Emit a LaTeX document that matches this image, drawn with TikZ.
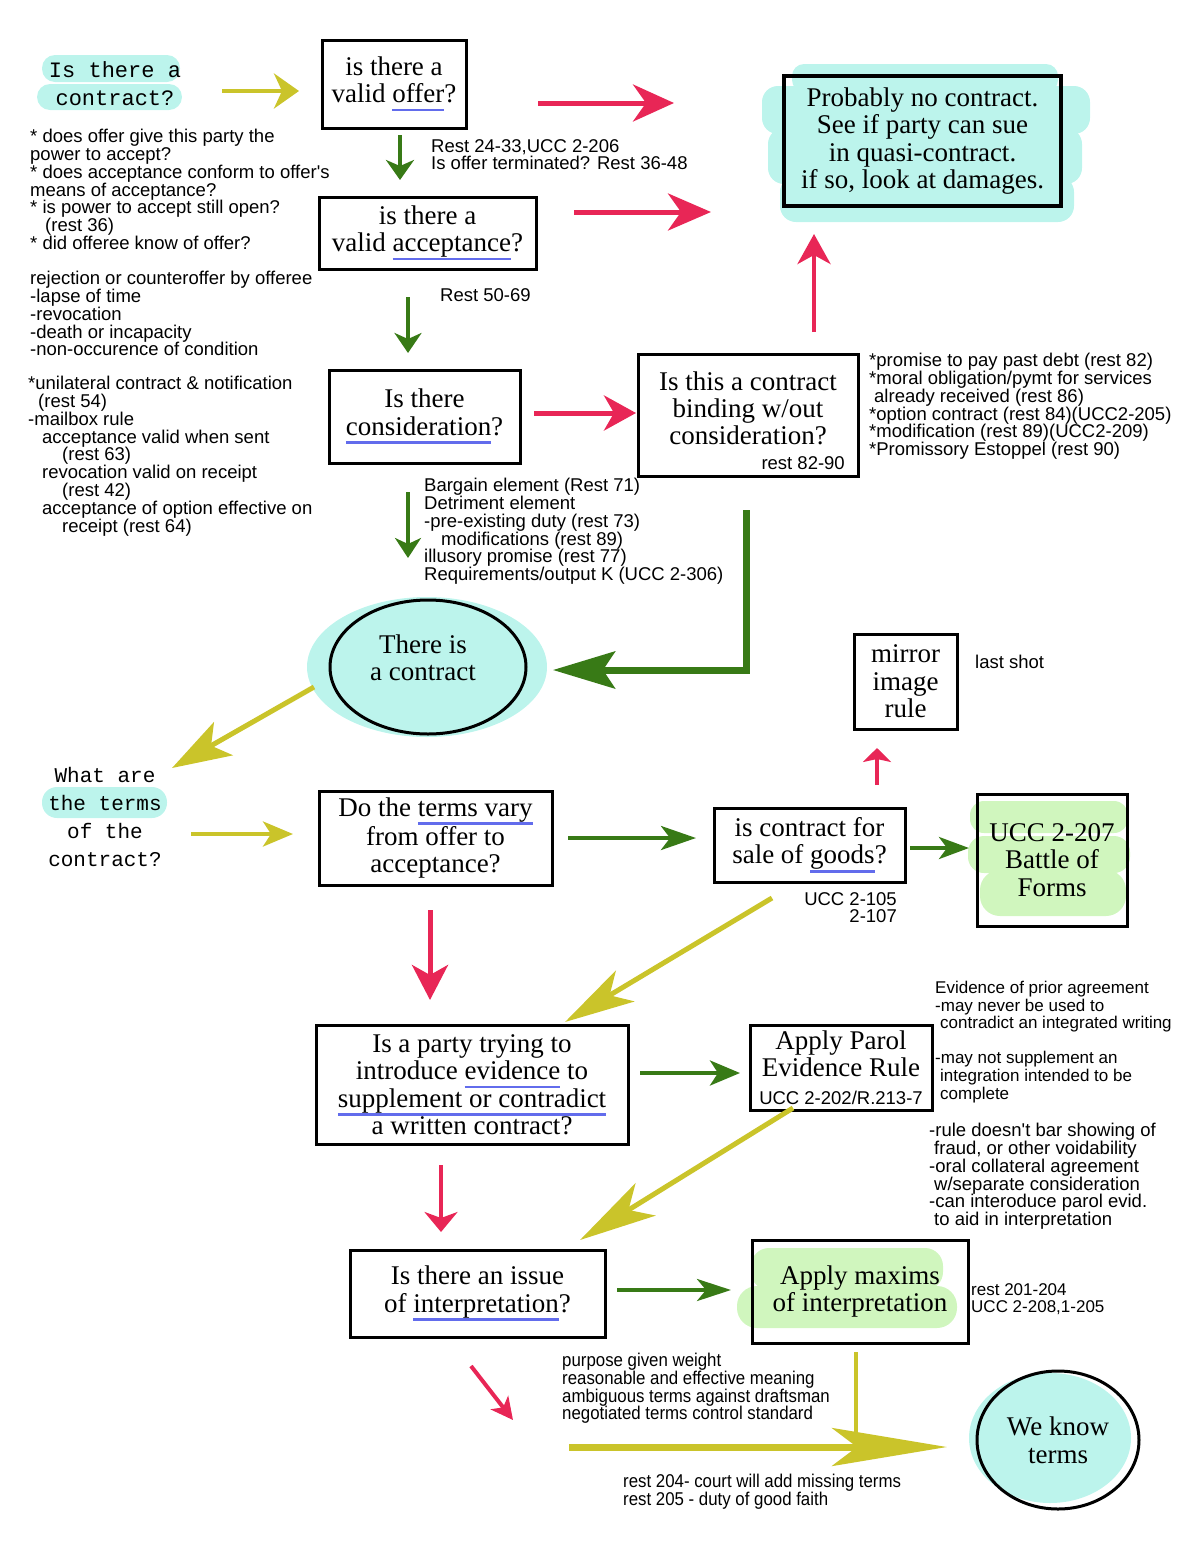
\documentclass[tikz,border=0pt]{standalone}
\usepackage{fontspec}
\setmainfont{Liberation Serif}
\newfontfamily\sansf{Liberation Sans}
\newfontfamily\narrowf[FakeStretch=0.91]{Liberation Sans}
\newfontfamily\monof{Liberation Mono}
\usetikzlibrary{arrows.meta,shapes.geometric}
\definecolor{redc}{RGB}{232,38,86}
\definecolor{greenc}{RGB}{56,122,22}
\definecolor{yellowc}{RGB}{202,196,42}
\definecolor{cyanc}{RGB}{188,244,236}
\definecolor{lgreenc}{RGB}{208,246,190}
\definecolor{ulblue}{RGB}{98,108,236}
\newsavebox\ulbox
\newcommand\bul[1]{\sbox\ulbox{#1}\rlap{\textcolor{ulblue}{\rule[-0.32em]{\wd\ulbox}{2.6pt}}}\usebox\ulbox}
\begin{document}
\begin{tikzpicture}[x=1pt,y=-1pt,
  box/.style={draw=black,line width=3pt,inner sep=0pt,align=center,font=\fontsize{27}{27.5}\selectfont},
  note/.style={font=\sansf\fontsize{18.5}{17.8}\selectfont,align=left,anchor=north west,inner sep=0pt},
  smallnote/.style={font=\sansf\fontsize{17}{17.6}\selectfont,align=left,anchor=north west,inner sep=0pt},
  narrownote/.style={font=\narrowf\fontsize{18.5}{17.7}\selectfont,align=left,anchor=north west,inner sep=0pt},
  reda/.style={draw=redc,line width=5pt},
  greena/.style={draw=greenc,line width=4pt},
  yellowa/.style={draw=yellowc,line width=4.5pt}]
\useasboundingbox (0,0) rectangle (1200,1553);

% ---------- highlights / smudges ----------
\fill[cyanc,rounded corners=13pt] (42,55) rectangle (180,82);
\fill[cyanc,rounded corners=13pt] (37,84) rectangle (182,110);
\fill[cyanc,rounded corners=15pt] (42,787) rectangle (167,818);
\fill[cyanc,rounded corners=12pt] (792,64) rectangle (1058,92);
\fill[cyanc,rounded corners=16pt] (762,86) rectangle (1090,134);
\fill[cyanc,rounded corners=16pt] (768,128) rectangle (1082,184);
\fill[cyanc,rounded corners=16pt] (780,176) rectangle (1074,222);
\fill[cyanc] (427,667) ellipse [x radius=120, y radius=70];
\fill[cyanc] (1050,1438) ellipse [x radius=81, y radius=65];
\fill[lgreenc,rounded corners=14pt] (970,801) rectangle (1128,833);
\fill[lgreenc,rounded corners=16pt] (968,836) rectangle (1130,873);
\fill[lgreenc,rounded corners=20pt] (980,870) rectangle (1126,916);
\fill[lgreenc,rounded corners=18pt] (751,1248) rectangle (943,1290);
\fill[lgreenc,rounded corners=20pt] (737,1286) rectangle (957,1328);

% ---------- main nodes ----------
\node[font=\monof\fontsize{22}{28}\selectfont,align=center,inner sep=0pt] (q1) at (115,84) {Is there a\\contract?};
\node[box,minimum width=144pt,minimum height=88pt] (offer) at (394,84) {is there a\\valid \bul{offer}?};
\node[box,minimum width=217pt,minimum height=72pt] (accept) at (427.5,233) {is there a\\valid \bul{acceptance}?};
\node[box,minimum width=191pt,minimum height=93pt] (consid) at (424.5,416.5) {Is there\\\bul{consideration}?};
\node[draw=black,line width=3pt,minimum width=220pt,minimum height=122pt,inner sep=0pt] (binding) at (748,415) {};
\node[align=center,inner sep=0pt,font=\fontsize{27}{27}\selectfont] (bindingt) at (748,408) {Is this a contract\\binding w/out\\consideration?};
\node[note,anchor=base east] (bindref) at (845,469) {rest 82-90};
\node[box,line width=3.5pt,minimum width=277pt,minimum height=130pt] (noK) at (922.5,141) {Probably no contract.\\See if party can sue\\in quasi-contract.\\if so, look at damages.};
\node[draw=black,line width=3pt,ellipse,minimum width=196pt,minimum height=134pt,inner sep=0pt] (isK) at (428,667) {};
\node[align=center,inner sep=0pt,font=\fontsize{27}{27.5}\selectfont] (isKt) at (423,658) {There is\\a contract};
\node[font=\monof\fontsize{21}{28}\selectfont,align=center,inner sep=0pt] (q2) at (105,817) {What are\\the terms\\of the\\contract?};
\node[box,minimum width=233pt,minimum height=94pt] (vary) at (435.5,838) {Do the \bul{terms vary}\\from offer to\\acceptance?};
\node[box,minimum width=191pt,minimum height=74pt] (goods) at (809.5,845) {is contract for\\sale of \bul{goods}?};
\node[note,anchor=north east,align=right] (goodsref) at (897,892) {UCC 2-105\\2-107};
\node[box,minimum width=103pt,minimum height=95pt] (mirror) at (905.5,681.5) {mirror\\image\\rule};
\node[note] (lastshot) at (975,655) {last shot};
\node[box,minimum width=150pt,minimum height=132pt] (battle) at (1052,860) {UCC 2-207\\Battle of\\Forms};
\node[box,minimum width=312pt,minimum height=119pt] (parolQ) at (472,1084.5) {Is a party trying to\\introduce \bul{evidence} to\\\bul{supplement or contradict}\\a written contract?};
\node[box,minimum width=182pt,minimum height=85pt] (parol) at (841,1067.5) {Apply Parol\\Evidence Rule\\{\sansf\fontsize{18.5}{20}\selectfont UCC 2-202/R.213-7}};
\node[box,minimum width=255pt,minimum height=87pt] (interpQ) at (477.5,1293.5) {Is there an issue\\of \bul{interpretation}?};
\node[box,minimum width=216pt,minimum height=103pt] (maxims) at (860,1291.5) {Apply maxims\\of interpretation};
\node[draw=black,line width=3pt,ellipse,minimum width=162pt,minimum height=138pt,inner sep=0pt,align=center,font=\fontsize{27}{27.5}\selectfont] (know) at (1058,1440) {We know\\terms};

% ---------- notes ----------
\node[note] (nA) at (30,129) {* does offer give this party the\\power to accept?\\* does acceptance conform to offer's\\means of acceptance?\\* is power to accept still open?\\\hspace*{15pt}(rest 36)\\* did offeree know of offer?};
\node[note] (nB) at (30,271) {rejection or counteroffer by offeree\\-lapse of time\\-revocation\\-death or incapacity\\-non-occurence of condition};
\node[note] (nC) at (431,139) {Rest 24-33,UCC 2-206\\Is offer terminated? Rest 36-48};
\node[note] (nD) at (440,288) {Rest 50-69};
\node[note] (nE) at (28,376) {*unilateral contract \& notification\\\hspace*{10pt}(rest 54)\\-mailbox rule\\\hspace*{14pt}acceptance valid when sent\\\hspace*{34pt}(rest 63)\\\hspace*{14pt}revocation valid on receipt\\\hspace*{34pt}(rest 42)\\\hspace*{14pt}acceptance of option effective on\\\hspace*{34pt}receipt (rest 64)};
\node[note] (nF) at (424,478) {Bargain element (Rest 71)\\Detriment element\\-pre-existing duty (rest 73)\\\hspace*{17pt}modifications (rest 89)\\illusory promise (rest 77)\\Requirements/output K (UCC 2-306)};
\node[note] (nG) at (869,353) {*promise to pay past debt (rest 82)\\*moral obligation/pymt for services\\\hspace*{5pt}already received (rest 86)\\*option contract (rest 84)(UCC2-205)\\*modification (rest 89)(UCC2-209)\\*Promissory Estoppel (rest 90)};
\node[smallnote] (nJ) at (935,981) {Evidence of prior agreement\\-may never be used to\\\hspace*{5pt}contradict an integrated writing\\[17.6pt]-may not supplement an\\\hspace*{5pt}integration intended to be\\\hspace*{5pt}complete};
\node[note] (nK) at (929,1123) {-rule doesn't bar showing of\\\hspace*{5pt}fraud, or other voidability\\-oral collateral agreement\\\hspace*{5pt}w/separate consideration\\-can interoduce parol evid.\\\hspace*{5pt}to aid in interpretation};
\node[smallnote] (nL) at (971,1283) {rest 201-204\\UCC 2-208,1-205};
\node[narrownote] (nM) at (562,1353) {purpose given weight\\reasonable and effective meaning\\ambiguous terms against draftsman\\negotiated terms control standard};
\node[narrownote] (nN) at (623,1474) {rest 204- court will add missing terms\\rest 205 - duty of good faith};

% ---------- connector end points ----------
\coordinate (y1a) at (222,91);   \coordinate (y1b) at (299,91);
\coordinate (r1a) at (538,103);  \coordinate (r1b) at (674,103);
\coordinate (g1a) at (400,135);  \coordinate (g1b) at (400,180);
\coordinate (r2a) at (574,212);  \coordinate (r2b) at (711,212);
\coordinate (g2a) at (408,297);  \coordinate (g2b) at (408,353);
\coordinate (r3a) at (534,413);  \coordinate (r3b) at (636,413);
\coordinate (r4a) at (814,332);  \coordinate (r4b) at (814,234);
\coordinate (g3a) at (408,492);  \coordinate (g3b) at (408,558);
\coordinate (g4a) at (746,510);  \coordinate (g4b) at (553,670);
\coordinate (y2a) at (314,687);  \coordinate (y2b) at (172,768);
\coordinate (y3a) at (191,834);  \coordinate (y3b) at (293,834);
\coordinate (g5a) at (568,838);  \coordinate (g5b) at (696,838);
\coordinate (r5a) at (877,785);  \coordinate (r5b) at (877,748);
\coordinate (g6a) at (910,848);  \coordinate (g6b) at (969,848);
\coordinate (y4a) at (772,898);  \coordinate (y4b) at (565,1022);
\coordinate (r6a) at (430,910);  \coordinate (r6b) at (430,1000);
\coordinate (g7a) at (640,1073); \coordinate (g7b) at (740,1073);
\coordinate (y5a) at (793,1108); \coordinate (y5b) at (580,1240);
\coordinate (r7a) at (441,1165); \coordinate (r7b) at (441,1232);
\coordinate (g8a) at (617,1290); \coordinate (g8b) at (731,1290);
\coordinate (r8a) at (471,1366); \coordinate (r8b) at (513,1420);
\coordinate (y6a) at (856,1352); \coordinate (y6b) at (856,1440);
\coordinate (y7a) at (569,1447); \coordinate (y7b) at (947,1447);

% ---------- connectors ----------
\draw[yellowa,-{Stealth[length=25pt,width=35pt,inset=8pt]}] (y1a) -- (y1b);
\draw[reda,-{Stealth[length=41pt,width=37pt,inset=13pt]}] (r1a) -- (r1b);
\draw[greena,-{Stealth[length=20pt,width=28pt,inset=6pt]}] (g1a) -- (g1b);
\draw[reda,-{Stealth[length=43pt,width=37pt,inset=13pt]}] (r2a) -- (r2b);
\draw[greena,-{Stealth[length=20pt,width=27pt,inset=6pt]}] (g2a) -- (g2b);
\draw[reda,-{Stealth[length=32pt,width=35pt,inset=10pt]}] (r3a) -- (r3b);
\draw[reda,line width=4.5pt,-{Stealth[length=30pt,width=33pt,inset=9pt]}] (r4a) -- (r4b);
\draw[greena,-{Stealth[length=20pt,width=26pt,inset=6pt]}] (g3a) -- (g3b);
\draw[greena,line width=7pt,-{Stealth[length=62pt,width=37pt,inset=12pt]}] (g4a) |- (g4b);
\draw[yellowa,line width=5pt,-{Stealth[length=59pt,width=38pt,inset=14pt]}] (y2a) -- (y2b);
\draw[yellowa,line width=4pt,-{Stealth[length=30pt,width=25pt,inset=8pt]}] (y3a) -- (y3b);
\draw[greena,-{Stealth[length=35pt,width=24pt,inset=9pt]}] (g5a) -- (g5b);
\draw[reda,line width=4pt,-{Stealth[length=14pt,width=28pt,inset=3pt]}] (r5a) -- (r5b);
\draw[greena,-{Stealth[length=30pt,width=22pt,inset=8pt]}] (g6a) -- (g6b);
\draw[yellowa,line width=5pt,-{Stealth[length=70pt,width=36pt,inset=18pt]}] (y4a) -- (y4b);
\draw[reda,-{Stealth[length=35pt,width=36pt,inset=10pt]}] (r6a) -- (r6b);
\draw[greena,-{Stealth[length=30pt,width=25pt,inset=8pt]}] (g7a) -- (g7b);
\draw[yellowa,line width=5pt,-{Stealth[length=77pt,width=38pt,inset=20pt]}] (y5a) -- (y5b);
\draw[reda,line width=4pt,-{Stealth[length=20pt,width=33pt,inset=6pt]}] (r7a) -- (r7b);
\draw[greena,-{Stealth[length=34pt,width=22pt,inset=9pt]}] (g8a) -- (g8b);
\draw[reda,line width=4pt,-{Stealth[length=22pt,width=22pt,inset=6pt]}] (r8a) -- (r8b);
\draw[yellowa,line width=4pt] (y6a) -- (y6b);
\draw[yellowa,line width=7pt,-{Stealth[length=115pt,width=38pt,inset=25pt]}] (y7a) -- (y7b);
\end{tikzpicture}
\end{document}
